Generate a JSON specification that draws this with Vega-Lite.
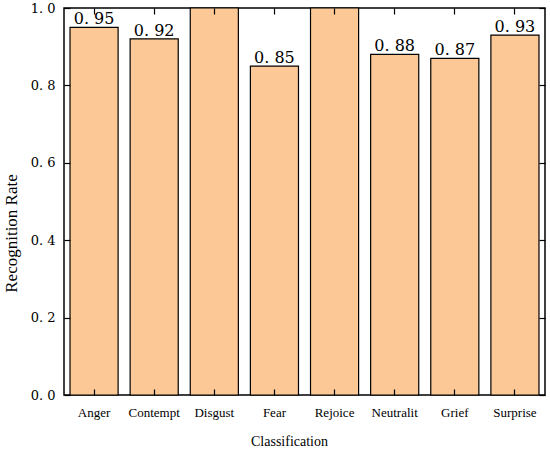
{
  "$schema": "https://vega.github.io/schema/vega-lite/v6.json",
  "width": 481,
  "height": 387,
  "autosize": "none",
  "padding": {"left": 64, "top": 8, "right": 5, "bottom": 56},
  "background": "white",
  "config": {
    "view": {"stroke": "black", "strokeWidth": 1.5},
    "axis": {
      "grid": false,
      "domain": false,
      "tickColor": "black",
      "tickWidth": 1.2,
      "tickSize": 6,
      "labelColor": "black",
      "labelFontWeight": "normal",
      "titleColor": "black",
      "titleFontWeight": "normal"
    }
  },
  "resolve": {"axis": {"x": "independent", "y": "independent"}},
  "data": {
    "values": [
      {"category": "Anger", "rate": 0.95},
      {"category": "Contempt", "rate": 0.92},
      {"category": "Disgust", "rate": 1.0},
      {"category": "Fear", "rate": 0.85},
      {"category": "Rejoice", "rate": 1.0},
      {"category": "Neutralit", "rate": 0.88},
      {"category": "Grief", "rate": 0.87},
      {"category": "Surprise", "rate": 0.93}
    ]
  },
  "transform": [
    {"calculate": "replace(format(datum.rate, '.2f'), '.', '. ')", "as": "label"}
  ],
  "encoding": {
    "x": {
      "field": "category",
      "type": "nominal",
      "sort": null,
      "scale": {"paddingInner": 0.2, "paddingOuter": 0.1}
    },
    "y": {
      "field": "rate",
      "type": "quantitative",
      "scale": {"domain": [0, 1], "nice": false}
    }
  },
  "layer": [
    {
      "mark": {"type": "bar", "fill": "#FCC896", "stroke": "black", "strokeWidth": 1.2},
      "encoding": {
        "x": {
          "field": "category",
          "type": "nominal",
          "sort": null,
          "axis": {
            "orient": "bottom",
            "offset": -6,
            "title": "Classification",
            "titleFont": "Liberation Serif",
            "titleFontSize": 14,
            "titleX": 225,
            "titleY": 52,
            "titleBaseline": "middle",
            "labelFont": "Liberation Serif",
            "labelFontSize": 13,
            "labelAngle": 0,
            "labelBaseline": "middle",
            "labelPadding": 17,
            "zindex": 1
          }
        },
        "y": {
          "field": "rate",
          "type": "quantitative",
          "axis": {
            "orient": "left",
            "offset": -6,
            "title": "Recognition Rate",
            "titleFont": "Liberation Serif",
            "titleFontSize": 17,
            "titleX": -59,
            "titleY": 225,
            "titleBaseline": "middle",
            "values": [0, 0.2, 0.4, 0.6, 0.8, 1.0],
            "labelExpr": "replace(format(datum.value, '.1f'), '.', '. ')",
            "labelFont": "DejaVu Serif",
            "labelFontSize": 13,
            "labelPadding": 9,
            "zindex": 1
          }
        }
      }
    },
    {
      "transform": [{"filter": "datum.rate < 1"}],
      "mark": {
        "type": "text",
        "baseline": "alphabetic",
        "dy": -3,
        "font": "DejaVu Serif",
        "fontSize": 16,
        "color": "black"
      },
      "encoding": {
        "text": {"field": "label"},
        "x": {
          "field": "category",
          "type": "nominal",
          "sort": null,
          "axis": {"orient": "top", "offset": -6, "title": null, "labels": false, "domain": false, "tickSize": 6, "tickColor": "black", "zindex": 1}
        },
        "y": {
          "field": "rate",
          "type": "quantitative",
          "axis": {"orient": "right", "offset": -6, "title": null, "labels": false, "domain": false, "values": [0, 0.2, 0.4, 0.6, 0.8, 1.0], "tickSize": 6, "tickColor": "black", "zindex": 1}
        }
      }
    }
  ]
}
